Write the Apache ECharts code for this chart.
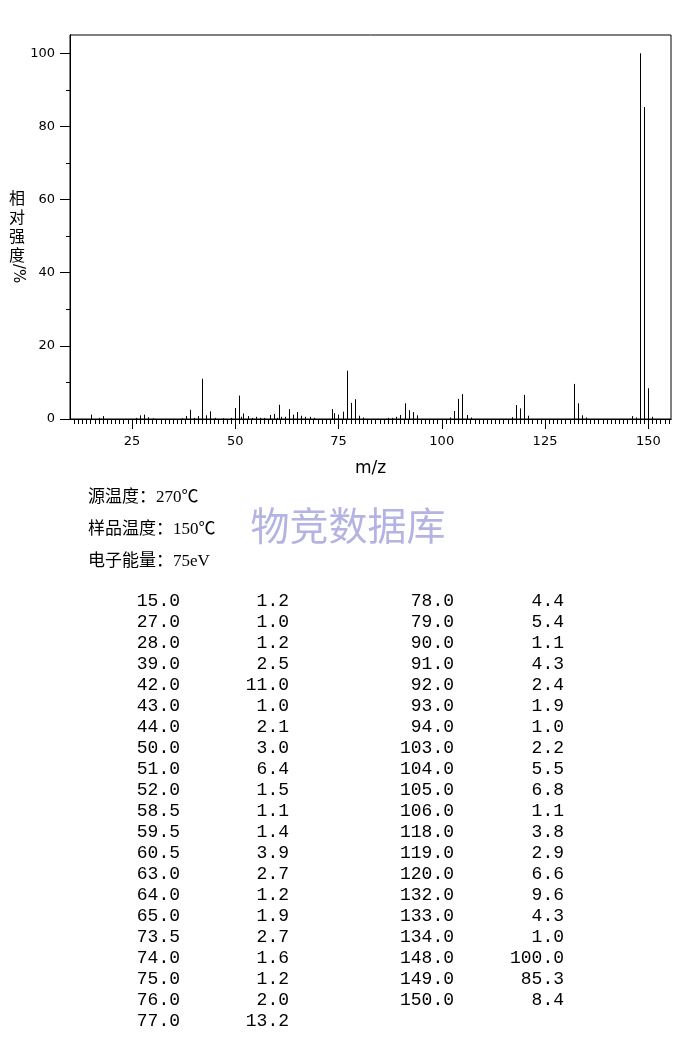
<!DOCTYPE html>
<html>
<head>
<meta charset="utf-8">
<script src="https://cdn.jsdelivr.net/npm/echarts@6/dist/echarts.min.js"></script>
<style>
html,body{margin:0;padding:0;background:#fff;}
#chart{width:696px;height:1049px;}
</style>
</head>
<body>
<div id="chart"></div>
<script>
// Tabulated peaks (m/z, relative intensity %)
const tableMz = [15.0,27.0,28.0,39.0,42.0,43.0,44.0,50.0,51.0,52.0,58.5,59.5,60.5,63.0,64.0,65.0,73.5,74.0,75.0,76.0,77.0,
                 78.0,79.0,90.0,91.0,92.0,93.0,94.0,103.0,104.0,105.0,106.0,118.0,119.0,120.0,132.0,133.0,134.0,148.0,149.0,150.0];
const tableInt = [1.2,1.0,1.2,2.5,11.0,1.0,2.1,3.0,6.4,1.5,1.1,1.4,3.9,2.7,1.2,1.9,2.7,1.6,1.2,2.0,13.2,
                  4.4,5.4,1.1,4.3,2.4,1.9,1.0,2.2,5.5,6.8,1.1,3.8,2.9,6.6,9.6,4.3,1.0,100.0,85.3,8.4];
// Minor peaks (below 1 %)
const minorMz  = [17,18,26,29,30,37,38,40,41,45,47,49,51.5,53,54,55,56,57,60,61,62,66,67,68,69,80,81,87,88,89,102,107,117,121,135,146,147,151];
const minorInt = [0.3,0.8,0.3,0.5,0.2,0.2,0.8,0.3,0.8,0.3,0.2,0.3,0.6,0.8,0.3,0.6,0.3,0.3,0.3,0.6,0.6,0.9,0.6,0.6,0.3,0.9,0.4,0.3,0.3,0.6,0.4,0.4,0.5,0.9,0.4,0.8,0.4,0.6];
// Axis tick labels
const xMajorTicks = [25,50,75,100,125,150];
const yMajorTicks = [0,20,40,60,80,100];
const yMinorTicks = [10,30,50,70,90];
const infoLines = ['源温度：270℃','样品温度：150℃','电子能量：75eV'];
const yName = ['相','对','强','度'];

const xMin = 10, xMax = 155.5, yMin = 0, yMax = 105;
const xMinorTicks = [];
for (let v = 11; v <= 155; v++) xMinorTicks.push(v);

const peaks = [];
tableMz.forEach((m,i)=>peaks.push([m, tableInt[i]]));
minorMz.forEach((m,i)=>peaks.push([m, minorInt[i]]));

const chart = echarts.init(document.getElementById('chart'), null, {renderer:'canvas'});

const axisFont = {fontFamily:'DejaVu Sans', fontSize:13, color:'#000'};
const lineStyle = {color:'#000', width:1};

// graphics: texts
const graphics = [];
graphics.push({type:'text', left:9, top:188, style:{text:yName.join('\n'), font:'16px "Noto Sans CJK SC"', lineHeight:19, fill:'#000'}});
graphics.push({type:'text', x:25, y:264, rotation:-Math.PI/2, style:{text:'/%', font:'15px "DejaVu Sans"', fill:'#000', textVerticalAlign:'top'}});
infoLines.forEach((t,i)=>{
  graphics.push({type:'text', x:88, y:498+32*i, style:{text:t, font:'17px "Liberation Serif", "Noto Sans CJK SC"', fill:'#000', textVerticalAlign:'middle'}});
});
graphics.push({type:'text', x:348, y:525, style:{text:'物竞数据库', font:'39px "Noto Sans CJK SC"', fill:'#b5b3e3', textAlign:'center', textVerticalAlign:'middle'}});

const half = Math.ceil(tableMz.length/2);
const cols = [180, 289, 454, 564];
tableMz.forEach((m,i)=>{
  const col = i < half ? 0 : 2;
  const row = i < half ? i : i - half;
  const y = 601 + 21*row;
  graphics.push({type:'text', x:cols[col], y:y, style:{text:m.toFixed(1), font:'18px "Liberation Mono"', fill:'#000', textAlign:'right', textVerticalAlign:'middle'}});
  graphics.push({type:'text', x:cols[col+1], y:y, style:{text:tableInt[i].toFixed(1), font:'18px "Liberation Mono"', fill:'#000', textAlign:'right', textVerticalAlign:'middle'}});
});

chart.setOption({
  animation:false,
  backgroundColor:'#fff',
  grid:{left:70, right:25, top:35, bottom:630, show:true, borderColor:'#000', borderWidth:1, backgroundColor:'transparent'},
  xAxis:[
    {type:'value', min:xMin, max:xMax, position:'bottom', offset:0,
     axisLine:{show:true, onZero:false, lineStyle:lineStyle},
     axisTick:{show:true, length:10, lineStyle:lineStyle, customValues:xMajorTicks},
     axisLabel:Object.assign({margin:16, customValues:xMajorTicks}, axisFont),
     splitLine:{show:false},
     name:'m/z', nameLocation:'middle', nameGap:41,
     nameTextStyle:{fontFamily:'DejaVu Sans', fontSize:17, color:'#000'}},
    {type:'value', min:xMin, max:xMax, position:'bottom', offset:0,
     axisLine:{show:true, onZero:false, lineStyle:lineStyle},
     axisTick:{show:true, length:5, lineStyle:lineStyle, customValues:xMinorTicks},
     axisLabel:{show:false},
     splitLine:{show:false}}
  ],
  yAxis:[
    {type:'value', min:yMin, max:yMax, position:'left', offset:0,
     axisLine:{show:true, onZero:false, lineStyle:lineStyle},
     axisTick:{show:true, length:10, lineStyle:lineStyle, customValues:yMajorTicks},
     axisLabel:Object.assign({margin:15, customValues:yMajorTicks}, axisFont),
     splitLine:{show:false}},
    {type:'value', min:yMin, max:yMax, position:'left', offset:0,
     axisLine:{show:true, onZero:false, lineStyle:lineStyle},
     axisTick:{show:true, length:4, lineStyle:lineStyle, customValues:yMinorTicks},
     axisLabel:{show:false},
     splitLine:{show:false}}
  ],
  series:[{
    type:'custom', xAxisIndex:0, yAxisIndex:0,
    data:peaks,
    renderItem:function(params, api){
      const p0 = api.coord([api.value(0), 0]);
      const p1 = api.coord([api.value(0), api.value(1)]);
      const x = Math.round(p0[0]) + 0.5;
      return {type:'line', shape:{x1:x, y1:p0[1], x2:x, y2:p1[1]}, style:{stroke:'#000', lineWidth:1}};
    }
  }],
  graphic:graphics
});
</script>
</body>
</html>
